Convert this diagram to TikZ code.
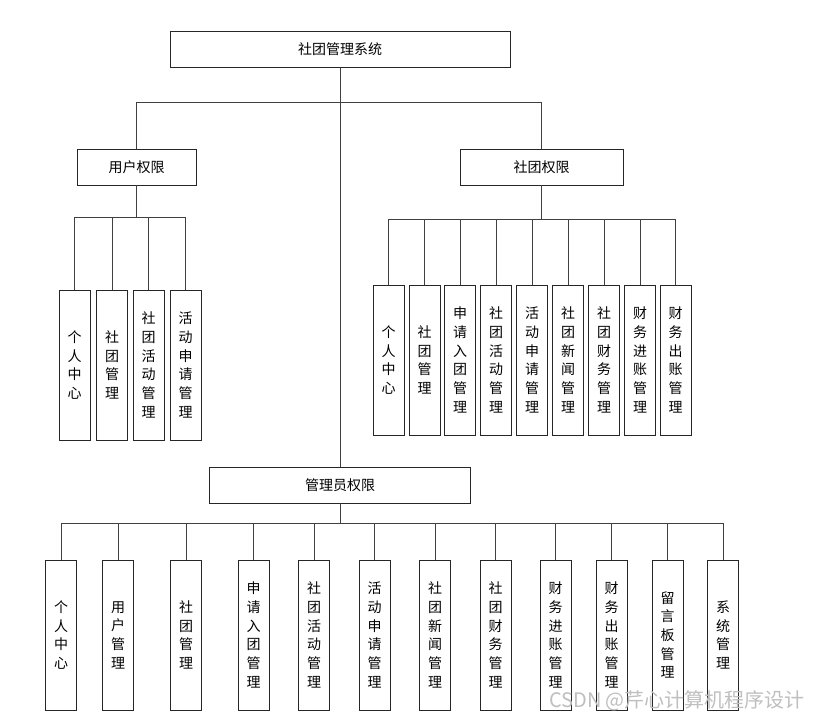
\documentclass[tikz,border=0pt]{standalone}
\usepackage{fontspec}
\setmainfont{Noto Sans CJK SC}
\usetikzlibrary{positioning}

\tikzset{
  box/.style={draw=black!85, line width=0.65pt, fill=white, inner sep=0pt,
    minimum height=27pt, font=\fontsize{10.5}{14}\selectfont},
  leaf/.style={box, minimum width=23.25pt, minimum height=112.5pt, align=center},
  link/.style={draw=black!75, line width=0.65pt},
}

\begin{document}
\begin{tikzpicture}[x=0.75pt,y=-0.75pt]
\useasboundingbox[fill=white] (0,0) rectangle (818,720);

% main boxes
\node[box, minimum width=255pt] (sys) at (340,49.5) {社团管理系统};
\node[box, minimum width=89.25pt] (user) at (136.5,167) {用户权限};
\node[box, minimum width=122.25pt] (club) at (541.5,167) {社团权限};
\node[box, minimum width=195.75pt] (admin) at (340,485) {管理员权限};

% user leaves
\node[leaf] (u1) at (74.5,365) {个\\人\\中\\心};
\node[leaf] (u2) at (112,365) {社\\团\\管\\理};
\node[leaf] (u3) at (148.5,365) {社\\团\\活\\动\\管\\理};
\node[leaf] (u4) at (185.5,365) {活\\动\\申\\请\\管\\理};

% club leaves
\node[leaf] (c1) at (388.5,360) {个\\人\\中\\心};
\node[leaf] (c2) at (424.5,360) {社\\团\\管\\理};
\node[leaf] (c3) at (460,360) {申\\请\\入\\团\\管\\理};
\node[leaf] (c4) at (496,360) {社\\团\\活\\动\\管\\理};
\node[leaf] (c5) at (532,360) {活\\动\\申\\请\\管\\理};
\node[leaf] (c6) at (568,360) {社\\团\\新\\闻\\管\\理};
\node[leaf] (c7) at (604,360) {社\\团\\财\\务\\管\\理};
\node[leaf] (c8) at (640,360) {财\\务\\进\\账\\管\\理};
\node[leaf] (c9) at (675.5,360) {财\\务\\出\\账\\管\\理};

% admin leaves
\node[leaf] (a1) at (61,635) {个\\人\\中\\心};
\node[leaf] (a2) at (118,635) {用\\户\\管\\理};
\node[leaf] (a3) at (186,635) {社\\团\\管\\理};
\node[leaf] (a4) at (253.5,635) {申\\请\\入\\团\\管\\理};
\node[leaf] (a5) at (314,635) {社\\团\\活\\动\\管\\理};
\node[leaf] (a6) at (374.5,635) {活\\动\\申\\请\\管\\理};
\node[leaf] (a7) at (435,635) {社\\团\\新\\闻\\管\\理};
\node[leaf] (a8) at (495.5,635) {社\\团\\财\\务\\管\\理};
\node[leaf] (a9) at (555.5,635) {财\\务\\进\\账\\管\\理};
\node[leaf] (a10) at (611.5,635) {财\\务\\出\\账\\管\\理};
\node[leaf] (a11) at (667.5,635) {留\\言\\板\\管\\理};
\node[leaf] (a12) at (723,635) {系\\统\\管\\理};

% links
\draw[link] (sys.south) -- ++(0,35) -| (user.north);
\draw[link] (sys.south) -- ++(0,35) -| (club.north);
\draw[link] (sys.south) -- (admin.north);

\foreach \n in {u1,u2,u3,u4}
  \draw[link] (user.south) -- ++(0,32) -| (\n.north);
\foreach \n in {c1,c2,c3,c4,c5,c6,c7,c8,c9}
  \draw[link] (club.south) -- ++(0,34) -| (\n.north);
\foreach \n in {a1,a2,a3,a4,a5,a6,a7,a8,a9,a10,a11,a12}
  \draw[link] (admin.south) -- ++(0,20) -| (\n.north);

% watermark
\node[text=gray!50, font=\fontsize{15}{18}\selectfont] (mark) at (677,701) {CSDN @芹心计算机程序设计};

\end{tikzpicture}
\end{document}
